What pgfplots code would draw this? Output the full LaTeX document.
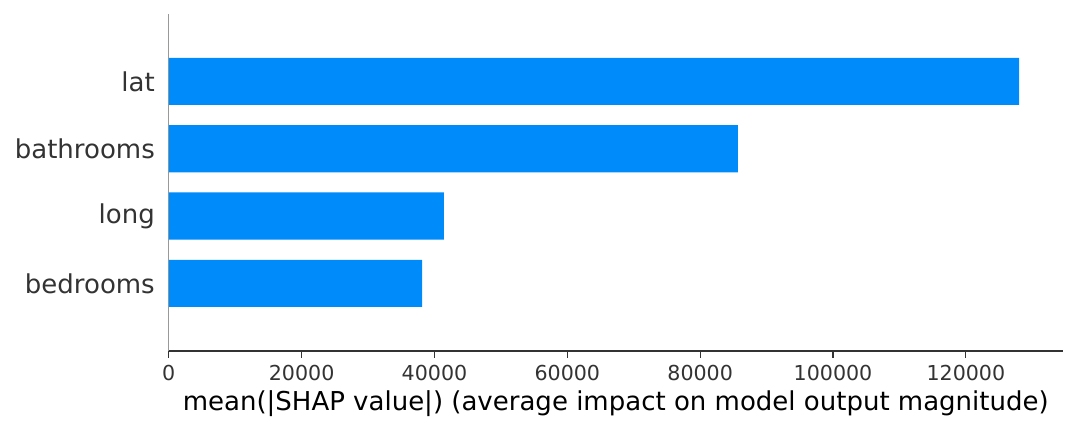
\documentclass[border=0pt]{standalone}
\usepackage{pgfplots}
\pgfplotsset{compat=1.18}
\usepackage{fontspec}
\setmainfont{DejaVu Sans}
\definecolor{shapblue}{HTML}{008BFA}
\definecolor{lab}{HTML}{333333}
\definecolor{spine}{HTML}{999999}
\begin{document}
\begin{tikzpicture}
\useasboundingbox (-84.4bp,-41.65bp) rectangle (453.6bp,175.35bp);
\begin{axis}[
  at={(0,0)}, anchor=south west,
  scale only axis, width=446.95bp, height=168.35bp,
  xmin=0, xmax=134575, ymin=-1, ymax=4,
  axis x line*=bottom, axis y line*=left,
  x axis line style={color=lab, line width=0.9bp},
  y axis line style={color=spine, line width=0.7bp},
  xtick={0,20000,40000,60000,80000,100000,120000},
  xticklabels={0,20000,40000,60000,80000,100000,120000},
  scaled x ticks=false,
  ytick={0,1,2,3},
  yticklabels={bedrooms,long,bathrooms,lat},
  tick align=outside,
  major tick length=3.5bp,
  xtick style={color=lab, line width=0.6bp},
  ytick style={draw=none},
  x tick label style={font=\fontsize{10.3bp}{12bp}\selectfont, text=lab},
  y tick label style={font=\fontsize{13bp}{15bp}\selectfont, text=lab},
  xlabel={mean(|SHAP value|) (average impact on model output magnitude)},
  xlabel style={font=\fontsize{13bp}{15bp}\selectfont, text=black, anchor=center, at={(axis description cs:0.5,0)}, yshift=-26.65bp},
]
\addplot[xbar, bar width=0.7, fill=shapblue, draw=none] coordinates {(38120,0) (41430,1) (85690,2) (128000,3)};
\end{axis}
\end{tikzpicture}
\end{document}
